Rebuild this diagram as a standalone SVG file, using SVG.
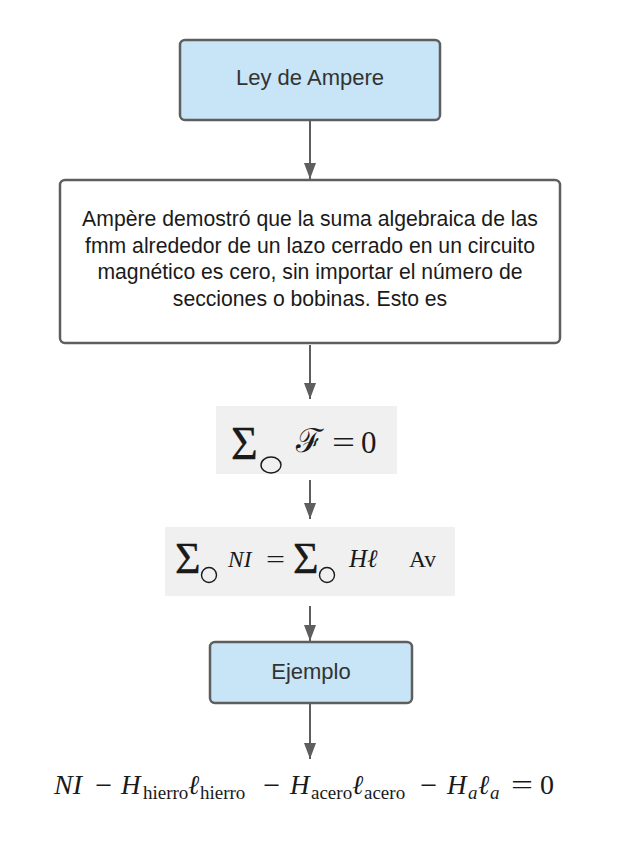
<svg xmlns="http://www.w3.org/2000/svg" width="623" height="856" viewBox="0 0 623 856">
<style>
.box{fill:#c7e5f6;stroke:#5e5e5e;stroke-width:2.5}
.wbox{fill:#ffffff;stroke:#5e5e5e;stroke-width:2.5}
.gbox{fill:#f0f0f0;stroke:none}
.lbl{font-family:"Liberation Sans",Arial,sans-serif;font-size:22px;fill:#333333;text-anchor:middle}
.body{font-family:"Liberation Sans",Arial,sans-serif;font-size:21.2px;fill:#1a1a1a;text-anchor:middle}
.m{font-family:"Liberation Serif","DejaVu Serif",serif;fill:#1a1a1a}
.sig{stroke:#1a1a1a;stroke-width:0.3}
.i{font-style:italic}
.conn{stroke:#5e5e5e;stroke-width:2;fill:none}
.circ{fill:none;stroke:#1a1a1a;stroke-width:1.4}
</style>
<defs>
<marker id="ah" viewBox="0 0 16 12" refX="16" refY="6" markerWidth="16" markerHeight="12" markerUnits="userSpaceOnUse" orient="auto">
<path d="M0,0 L16,6 L0,12 z" fill="#5e5e5e"/>
</marker>
</defs>
<rect width="623" height="856" fill="#ffffff"/>
<g id="connectors">
<line class="conn" x1="310" y1="121" x2="310" y2="179" marker-end="url(#ah)"/>
<line class="conn" x1="310" y1="345" x2="310" y2="399" marker-end="url(#ah)"/>
<line class="conn" x1="310" y1="480" x2="310" y2="519" marker-end="url(#ah)"/>
<line class="conn" x1="310" y1="606" x2="310" y2="641" marker-end="url(#ah)"/>
<line class="conn" x1="310" y1="704" x2="310" y2="759" marker-end="url(#ah)"/>
</g>
<g id="node-ley">
<rect class="box" x="180" y="40" width="260" height="80" rx="5"/>
<text class="lbl" x="310" y="85">Ley de Ampere</text>
</g>
<g id="node-ampere">
<rect class="wbox" x="60" y="180" width="500" height="163" rx="5"/>
<text class="body" x="310"><tspan x="310" y="226">Ampère demostró que la suma algebraica de las</tspan><tspan x="310" y="252.5">fmm alrededor de un lazo cerrado en un circuito</tspan><tspan x="310" y="279">magnético es cero, sin importar el número de</tspan><tspan x="310" y="305.5">secciones o bobinas. Esto es</tspan></text>
</g>
<g id="node-eq1">
<rect class="gbox" x="216" y="406" width="181" height="68"/>
<text class="m sig" font-size="46" x="231" y="459">Σ</text>
<ellipse class="circ" cx="271" cy="465" rx="10" ry="8"/>
<text class="m" font-size="33" x="296" y="452" font-family="DejaVu Serif,DejaVu Sans,serif">ℱ</text>
<text class="m" font-size="31" x="332" y="453" textLength="23" lengthAdjust="spacingAndGlyphs">=</text>
<text class="m" font-size="31" x="361" y="453">0</text>
</g>
<g id="node-eq2">
<rect class="gbox" x="165" y="527" width="290" height="69"/>
<text class="m sig" font-size="44" x="175" y="573">Σ</text>
<circle class="circ" cx="209" cy="575" r="7.5"/>
<text class="m i" font-size="23.5" x="228" y="567">NI</text>
<text class="m" font-size="23.5" x="266" y="567" textLength="19" lengthAdjust="spacingAndGlyphs">=</text>
<text class="m sig" font-size="44" x="293" y="573">Σ</text>
<circle class="circ" cx="327" cy="575" r="7.5"/>
<text class="m i" font-size="25" x="349" y="567">Hℓ</text>
<text class="m" font-size="23.5" x="409" y="567">Av</text>
</g>
<g id="node-ejemplo">
<rect class="box" x="210" y="642" width="202" height="61" rx="5"/>
<text class="lbl" x="311" y="679">Ejemplo</text>
</g>
<g id="node-eq3">
<text class="m i" font-size="28" x="54" y="794">NI</text>
<text class="m" font-size="27" x="95" y="794" textLength="17" lengthAdjust="spacingAndGlyphs">−</text>
<text class="m" font-size="27" y="794"><tspan class="i" x="121">H</tspan><tspan x="143" y="799" font-size="19">hierro</tspan><tspan class="i" x="188" y="794">ℓ</tspan><tspan x="200" y="799" font-size="19">hierro</tspan></text>
<text class="m" font-size="27" x="263" y="794" textLength="17" lengthAdjust="spacingAndGlyphs">−</text>
<text class="m" font-size="27" y="794"><tspan class="i" x="290">H</tspan><tspan x="311" y="799" font-size="19">acero</tspan><tspan class="i" x="352" y="794">ℓ</tspan><tspan x="364" y="799" font-size="19">acero</tspan></text>
<text class="m" font-size="27" x="420" y="794" textLength="17" lengthAdjust="spacingAndGlyphs">−</text>
<text class="m" font-size="27" y="794"><tspan class="i" x="447">H</tspan><tspan class="i" x="468" y="799" font-size="19">a</tspan><tspan class="i" x="478" y="794">ℓ</tspan><tspan class="i" x="490" y="799" font-size="19">a</tspan></text>
<text class="m" font-size="27" x="511" y="794" textLength="22" lengthAdjust="spacingAndGlyphs">=</text>
<text class="m" font-size="28" x="540" y="794">0</text>
</g>
</svg>
